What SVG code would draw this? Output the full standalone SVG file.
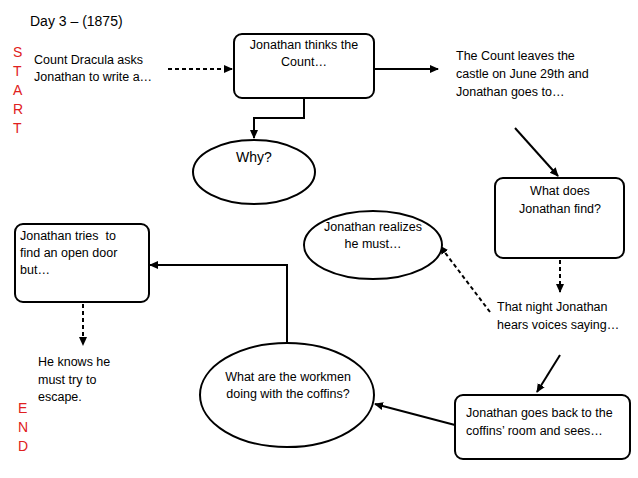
<svg xmlns="http://www.w3.org/2000/svg" width="638" height="478" viewBox="0 0 638 478">
<defs>
<marker id="a" markerWidth="10" markerHeight="10" refX="8" refY="5" orient="auto" markerUnits="userSpaceOnUse"><path d="M0,1 L9,5 L0,9 Z" fill="#000"/></marker>
<style>
text{font-family:"Liberation Sans",Arial,sans-serif;font-size:12.5px;fill:#000}
.r{fill:#e02020;font-size:14px}
.c{text-anchor:middle}
.n{fill:#fff;stroke:#000;stroke-width:2}
.l{fill:none;stroke:#000;stroke-width:2;marker-end:url(#a)}
.d{stroke-dasharray:4,3}
</style>
</defs>
<rect width="638" height="478" fill="#fff"/>
<text x="30" y="26" style="font-size:14px">Day 3 – (1875)</text>
<g id="start"><text class="r" x="13" y="57">S</text><text class="r" x="13" y="76">T</text><text class="r" x="13" y="95">A</text><text class="r" x="13" y="114">R</text><text class="r" x="13" y="133">T</text></g>
<g id="end"><text class="r" x="18" y="413">E</text><text class="r" x="18" y="432">N</text><text class="r" x="18" y="451">D</text></g>
<g id="connectors">
<path class="l d" d="M168,69 H232"/>
<path class="l" d="M374,69 H438"/>
<path class="l" d="M304,98 V118 H254 V138"/>
<path class="l" d="M515,128 L558,176"/>
<path class="l d" d="M560,260 V292"/>
<path class="l d" d="M490,312 L440,246"/>
<path class="l" d="M560,355 L537,392"/>
<path class="l" d="M455,425 L375,404"/>
<path class="l" d="M287,350 V265 H150"/>
<path class="l d" d="M83,304 V345"/>
</g>
<g id="n1"><text x="34" y="64">Count Dracula asks</text><text x="34" y="81">Jonathan to write a…</text></g>
<g id="n2"><rect class="n" x="234" y="34" width="140" height="64" rx="8"/><text class="c" x="304" y="49">Jonathan thinks the</text><text class="c" x="304" y="66">Count…</text></g>
<g id="n3"><text x="456" y="60">The Count leaves the</text><text x="456" y="78">castle on June 29th and</text><text x="456" y="96">Jonathan goes to…</text></g>
<g id="n4"><ellipse class="n" cx="254" cy="172" rx="61" ry="32"/><text class="c" x="254" y="162" style="font-size:14px">Why?</text></g>
<g id="n5"><rect class="n" x="495" y="178" width="129" height="80" rx="8"/><text class="c" x="560" y="195">What does</text><text class="c" x="560" y="213">Jonathan find?</text></g>
<g id="n6"><text x="497" y="311">That night Jonathan</text><text x="497" y="329">hears voices saying…</text></g>
<g id="n7"><ellipse class="n" cx="373" cy="245" rx="69" ry="34"/><text class="c" x="373" y="231">Jonathan realizes</text><text class="c" x="373" y="248">he must…</text></g>
<g id="n8"><rect class="n" x="455" y="395" width="175" height="64" rx="8"/><text x="466" y="417">Jonathan goes back to the</text><text x="466" y="435">coffins’ room and sees…</text></g>
<g id="n9"><ellipse class="n" cx="287" cy="395" rx="87" ry="52"/><text class="c" x="288" y="381">What are the workmen</text><text class="c" x="288" y="398">doing with the coffins?</text></g>
<g id="n10"><rect class="n" x="15" y="224" width="134" height="78" rx="8"/><text x="20" y="240" xml:space="preserve">Jonathan tries  to</text><text x="20" y="257">find an open door</text><text x="20" y="274">but…</text></g>
<g id="n11"><text x="38" y="366">He knows he</text><text x="38" y="384">must try to</text><text x="38" y="401">escape.</text></g>
</svg>
